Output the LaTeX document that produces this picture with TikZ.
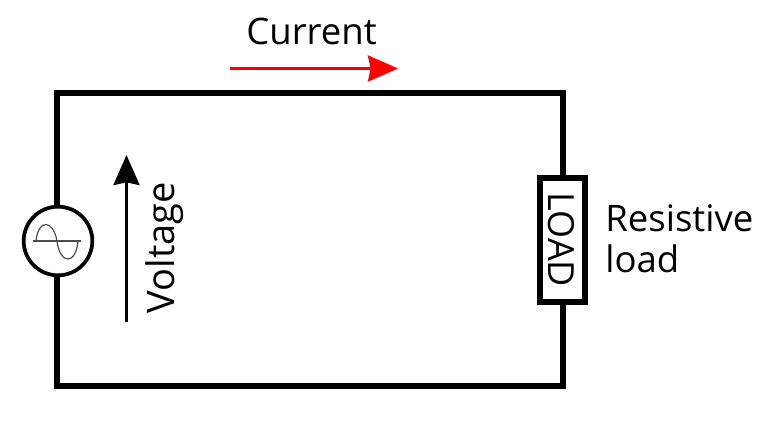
\documentclass[tikz,border=0pt]{standalone}
\usepackage{fontspec}
\setmainfont{Open Sans}
\usetikzlibrary{arrows.meta}
\begin{document}
\begin{tikzpicture}[x=0.75pt,y=-0.75pt,
  wire/.style={line width=4.6pt,line cap=butt},
  source/.style={circle,draw,fill=white,line width=2.8pt,minimum size=51.5pt,inner sep=0pt},
  loadbox/.style={draw,fill=white,line width=4.8pt,minimum width=33.6pt,minimum height=93pt,inner sep=0pt},
  flow/.style={line width=2.3pt,-{Stealth[length=22.5pt,width=19.5pt,inset=2pt]}},
  lbl/.style={inner sep=0pt,font=\fontsize{27.4pt}{32pt}\selectfont},
  wave/.style={line width=0.9pt,draw=black!70}]
\useasboundingbox (0,0) rectangle (768,422);
\node[source] (src) at (58,241) {};
\node[loadbox] (load) at (562.5,240) {};
\node[lbl,rotate=-90,font=\fontsize{27pt}{32pt}\selectfont] (loadtxt) at (561,240) {LOAD};
\coordinate (tl) at (57,93);
\coordinate (tr) at (563,93);
\coordinate (bl) at (57,386);
\coordinate (br) at (563,386);
\draw[wire,line join=miter] (src.north -| tl) -- (tl) -- (tr) -- (load.north -| tr);
\draw[wire,line join=miter] (src.south -| bl) -- (bl) -- (br) -- (load.south -| br);
% sine symbol
\draw[wave] (33,241) -- (81,241);
\draw[wave] (36,241) .. controls (38,219) and (53,219) .. (57,241)
  .. controls (60,265) and (76,265) .. (78,241);
% arrows
\coordinate (cs) at (230,68.5);
\coordinate (ce) at (398,68.5);
\draw[flow,red] (cs) -- (ce);
\coordinate (vs) at (126.5,322);
\coordinate (ve) at (126.5,155);
\draw[flow,black] (vs) -- (ve);
% labels
\node[lbl,anchor=base] (cur) at (311.5,44) {Current};
\node[lbl,rotate=90,anchor=base,font=\fontsize{28.5pt}{32pt}\selectfont] (volt) at (174,247.5) {Voltage};
\node[lbl,anchor=base west] (res) at (605,231) {Resistive};
\node[lbl,anchor=base west] (lo) at (605,272) {load};
\end{tikzpicture}
\end{document}
